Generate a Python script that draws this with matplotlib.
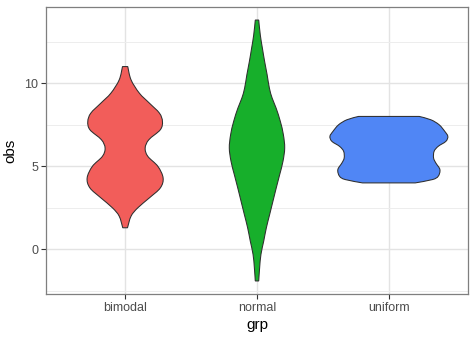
import matplotlib.pyplot as plt
import numpy as np
from matplotlib.path import Path
from matplotlib.patches import PathPatch
from matplotlib.ticker import MultipleLocator

plt.rcParams['font.family'] = ['Liberation Sans', 'DejaVu Sans']

groups = ['bimodal', 'normal', 'uniform']
colors = ['#F25D5A', '#17AF2B', '#5086F5']

# violin outlines: obs level and half width (in x units) along each group
bimodal_y = [1.3, 2.0, 2.5, 3.1, 3.7, 4.3, 5.0, 5.6, 6.1, 6.6, 7.2, 7.7, 8.2, 8.8, 9.4, 10.2, 11.0]
bimodal_w = [0.018, 0.045, 0.096, 0.184, 0.267, 0.288, 0.248, 0.172, 0.152, 0.18, 0.267, 0.283, 0.26,
             0.184, 0.108, 0.045, 0.02]

normal_y = [-1.9, -1.1, -0.3, 0.5, 1.3, 2.1, 2.9, 3.7, 4.5, 5.3, 6.1, 6.9, 7.7, 8.5, 9.1, 9.7, 10.5,
            11.3, 12.1, 12.9, 13.8]
normal_w = [0.013, 0.02, 0.03, 0.051, 0.071, 0.096, 0.121, 0.146, 0.172, 0.197, 0.21, 0.2, 0.177, 0.145,
            0.115, 0.094, 0.077, 0.058, 0.041, 0.025, 0.013]

uniform_y = [4.0, 4.2, 4.4, 4.8, 5.2, 5.5, 5.9, 6.2, 6.5, 6.8, 7.1, 7.5, 7.8, 8.0]
uniform_w = [0.2, 0.33, 0.374, 0.387, 0.356, 0.339, 0.343, 0.374, 0.432, 0.447, 0.424, 0.381, 0.318, 0.23]

profiles = [(bimodal_y, bimodal_w), (normal_y, normal_w), (uniform_y, uniform_w)]


def smooth_side(pts):
    # catmull-rom through the points, as cubic bezier segments
    pts = np.asarray(pts, dtype=float)
    ext = np.vstack([pts[0], pts, pts[-1]])
    verts, codes = [], []
    for i in range(1, len(ext) - 2):
        p0, p1, p2, p3 = ext[i - 1], ext[i], ext[i + 1], ext[i + 2]
        verts += [p1 + (p2 - p0) / 6, p2 - (p3 - p1) / 6, p2]
        codes += [Path.CURVE4] * 3
    return verts, codes


def violin_path(center, ys, ws):
    ys = np.asarray(ys)
    ws = np.asarray(ws)
    right = np.column_stack([center + ws, ys])
    left = np.column_stack([center - ws, ys])[::-1]
    verts = [right[0]]
    codes = [Path.MOVETO]
    v, c = smooth_side(right)
    verts += v
    codes += c
    verts.append(left[0])
    codes.append(Path.LINETO)
    v, c = smooth_side(left)
    verts += v
    codes += c
    verts.append(right[0])
    codes.append(Path.CLOSEPOLY)
    return Path(verts, codes)


fig = plt.figure(figsize=(4.74, 3.38), dpi=100)
ax = fig.add_axes([46 / 474, 44 / 338, 422 / 474, 287 / 338])
ax.set_facecolor('white')

for i, (name, (ys, ws)) in enumerate(zip(groups, profiles)):
    patch = PathPatch(violin_path(i + 1, ys, ws), facecolor=colors[i], edgecolor='#2E2E2E',
                      linewidth=0.75, zorder=3)
    ax.add_patch(patch)

# ggplot-style 5% expansion around the data range
all_y = np.concatenate([bimodal_y, normal_y, uniform_y])
span = all_y.max() - all_y.min()
ax.set_ylim(all_y.min() - 0.05 * span, all_y.max() + 0.05 * span)
ax.set_xlim(0.4, 3.6)

ax.set_xticks([1, 2, 3])
ax.set_xticklabels(groups)
ax.yaxis.set_major_locator(MultipleLocator(5))
ax.yaxis.set_minor_locator(MultipleLocator(2.5))

ax.grid(True, which='major', color='#E3E3E3', linewidth=1.0, zorder=0)
ax.grid(True, which='minor', axis='y', color='#EDEDED', linewidth=0.7, zorder=0)
ax.set_axisbelow(True)

ax.tick_params(axis='both', which='major', length=3.5, width=0.8, color='#333333',
               labelcolor='#4D4D4D', labelsize=9, pad=2)
ax.tick_params(axis='y', which='minor', length=0)
for s in ax.spines.values():
    s.set_color('#7F7F7F')
    s.set_linewidth(0.9)

ax.set_xlabel('grp', fontsize=11, labelpad=3)
ax.set_ylabel('obs', fontsize=11, labelpad=5)

fig.savefig('out.png', dpi=100)
